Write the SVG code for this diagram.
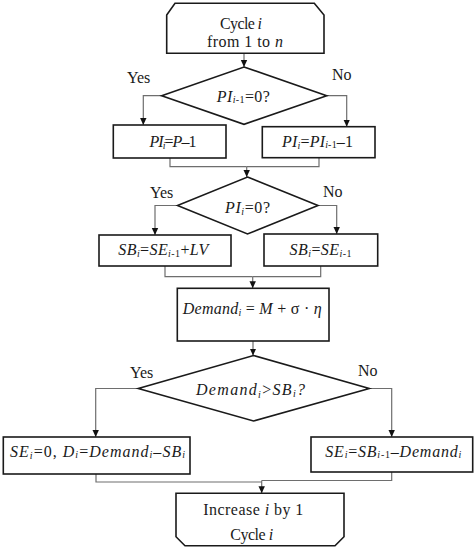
<svg xmlns="http://www.w3.org/2000/svg" width="474" height="547" viewBox="0 0 474 547">
<defs>
<marker id="arr" markerUnits="userSpaceOnUse" markerWidth="8" markerHeight="8" viewBox="0 0 8 8" refX="7" refY="4" orient="auto">
<path d="M0,0.8 L7,4 L0,7.2 z" fill="#111"/>
</marker>
<style>
.shape{fill:#fff;stroke:#1a1a1a;stroke-width:1.6}
.con{fill:none;stroke:#6e6e6e;stroke-width:1.2}
.arr{marker-end:url(#arr)}
text{font-family:"Liberation Serif","Times New Roman",serif;font-size:16px;fill:#1a1a1a}
.t{text-anchor:middle}
.it{font-style:italic}
.sub{font-size:10px}
</style>
</defs>
<rect width="474" height="547" fill="#fff"/>

<g id="connectors">
<path class="con arr" d="M244,53.3 V67"/>
<path class="con arr" d="M161.7,95.7 H143.3 V125"/>
<path class="con arr" d="M326.7,95.7 H346.7 V126.7"/>
<path class="con" d="M170,158 V166.7 H246.7"/>
<path class="con" d="M319,157.7 V166.7 H246.7"/>
<path class="con arr" d="M246.7,166.7 V177"/>
<path class="con arr" d="M177.5,205.5 H155 V235"/>
<path class="con arr" d="M318,205.5 H336.7 V234"/>
<path class="con" d="M165,266 V276.7 H252.7"/>
<path class="con" d="M320.7,266 V276.7 H252.7"/>
<path class="con arr" d="M252.7,276.7 V288.3"/>
<path class="con arr" d="M253,341 V355.5"/>
<path class="con arr" d="M138.3,388.5 H95.7 V437"/>
<path class="con arr" d="M369.3,388.5 H391.7 V437"/>
<path class="con" d="M96,474 V482 H261.7"/>
<path class="con" d="M391.7,472 V480.5 H261.7"/>
<path class="con arr" d="M261.7,480.5 V493.3"/>
</g>

<g id="start">
<path class="shape" d="M166.7,15 L175,3.3 H314.3 L324,15 V53.3 H166.7 z"/>
<text class="t" x="241" y="28.5" textLength="42">Cycle <tspan class="it">i</tspan></text>
<text class="t" x="245" y="47" textLength="76">from 1 to <tspan class="it">n</tspan></text>
</g>

<g id="dec1">
<path class="shape" d="M244,67 L326.7,95.7 L244,124.3 L161.7,95.7 z"/>
<text class="t" x="243.3" y="101.5" textLength="53"><tspan class="it">PI</tspan><tspan class="sub it" dy="1.5">i</tspan><tspan class="sub">-1</tspan><tspan dy="-1.5">=0?</tspan></text>
<text x="127" y="83">Yes</text>
<text x="332" y="80">No</text>
</g>

<g id="pi-yes">
<rect class="shape" x="113.3" y="125" width="112.7" height="33"/>
<text class="t" x="173" y="146.7" textLength="47"><tspan class="it">PI</tspan><tspan class="sub it" dy="2">i</tspan><tspan dy="-2">=</tspan><tspan class="it">P</tspan>–1</text>
</g>

<g id="pi-no">
<rect class="shape" x="262.3" y="126.7" width="112.7" height="31"/>
<text class="t" x="317.5" y="146.7" textLength="71"><tspan class="it">PI</tspan><tspan class="sub it" dy="2">i</tspan><tspan dy="-2">=</tspan><tspan class="it">PI</tspan><tspan class="sub it" dy="1.5">i</tspan><tspan class="sub">-1</tspan><tspan dy="-1.5">–1</tspan></text>
</g>

<g id="dec2">
<path class="shape" d="M247.5,177 L318,205.5 L247.5,234 L177.5,205.5 z"/>
<text class="t" x="247.5" y="212.7" textLength="45"><tspan class="it">PI</tspan><tspan class="sub it" dy="2">i</tspan><tspan dy="-2">=0?</tspan></text>
<text x="150" y="198">Yes</text>
<text x="323" y="196.5">No</text>
</g>

<g id="sb-yes">
<rect class="shape" x="99" y="235" width="132" height="31"/>
<text class="t" x="163.3" y="255" textLength="90"><tspan class="it">SB</tspan><tspan class="sub it" dy="2">i</tspan><tspan dy="-2">=</tspan><tspan class="it">SE</tspan><tspan class="sub it" dy="1.5">i</tspan><tspan class="sub">-1</tspan><tspan dy="-1.5">+</tspan><tspan class="it">LV</tspan></text>
</g>

<g id="sb-no">
<rect class="shape" x="264" y="234" width="113.7" height="32"/>
<text class="t" x="320.5" y="255" textLength="62"><tspan class="it">SB</tspan><tspan class="sub it" dy="2">i</tspan><tspan dy="-2">=</tspan><tspan class="it">SE</tspan><tspan class="sub it" dy="1.5">i</tspan><tspan class="sub">-1</tspan></text>
</g>

<g id="demand">
<rect class="shape" x="177.3" y="288.3" width="151.7" height="52.7"/>
<text class="t" x="252.2" y="313.5" textLength="139"><tspan class="it">Demand</tspan><tspan class="sub it" dy="2.5">i</tspan><tspan dy="-2.5"> = </tspan><tspan class="it">M</tspan> + σ · <tspan class="it">η</tspan></text>
</g>

<g id="dec3">
<path class="shape" d="M253.5,355.5 L369.3,388.5 L253.5,421 L138.3,388.5 z"/>
<text class="t" x="250.5" y="395" textLength="109"><tspan class="it">Demand</tspan><tspan class="sub it" dy="2.5">i</tspan><tspan dy="-2.5">&gt;</tspan><tspan class="it">SB</tspan><tspan class="sub it" dy="1.5">i</tspan><tspan class="it" dy="-1.5">?</tspan></text>
<text x="130" y="378">Yes</text>
<text x="358" y="376">No</text>
</g>

<g id="se-yes">
<rect class="shape" x="3.3" y="437" width="186.7" height="37"/>
<text class="t" x="97.5" y="456.5" textLength="175"><tspan class="it">SE</tspan><tspan class="sub it" dy="2.5">i</tspan><tspan dy="-2.5">=0, </tspan><tspan class="it">D</tspan><tspan class="sub it" dy="1.5">i</tspan><tspan dy="-1.5">=</tspan><tspan class="it">Demand</tspan><tspan class="sub it" dy="1.5">i</tspan><tspan dy="-1.5">–</tspan><tspan class="it">SB</tspan><tspan class="sub it" dy="1.5">i</tspan></text>
</g>

<g id="se-no">
<rect class="shape" x="311" y="437" width="161.7" height="35"/>
<text class="t" x="393.3" y="456.7" textLength="136"><tspan class="it">SE</tspan><tspan class="sub it" dy="1.5">i</tspan><tspan dy="-1.5">=</tspan><tspan class="it">SB</tspan><tspan class="sub it" dy="1.5">i</tspan><tspan class="sub">-1</tspan><tspan dy="-1.5">–</tspan><tspan class="it">Demand</tspan><tspan class="sub it" dy="1.5">i</tspan></text>
</g>

<g id="end">
<path class="shape" d="M176,493.3 H344 V536.7 L335,545.7 H185 L176,536.7 z"/>
<text class="t" x="253.3" y="515" textLength="100">Increase <tspan class="it">i</tspan> by 1</text>
<text class="t" x="251.7" y="540" textLength="43">Cycle <tspan class="it">i</tspan></text>
</g>
</svg>
